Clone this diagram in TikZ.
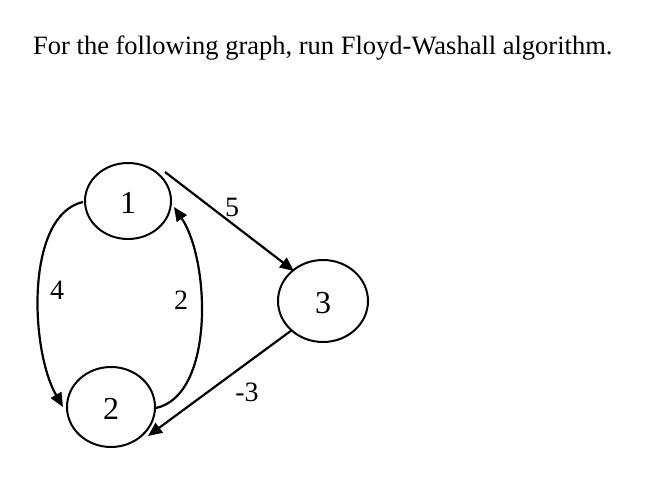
\documentclass[tikz,border=0pt]{standalone}
\usepackage{fontspec}
\setmainfont{Liberation Serif}
\usetikzlibrary{arrows.meta}
\begin{document}
\begin{tikzpicture}[x=1pt,y=-1pt,
  vert/.style={draw,line width=2pt,ellipse,minimum width=#1},
  ell/.style={draw,line width=2pt},
  lbl/.style={font=\fontsize{28}{30}\selectfont,inner sep=0pt},
  edge/.style={line width=2.2pt,-{Triangle[length=14pt,width=12pt]}}]
\useasboundingbox (0,0) rectangle (654,484);
\node[font=\fontsize{26.5}{30}\selectfont,anchor=west,inner sep=0pt] (title) at (33,48) {For the following graph, run Floyd-Washall algorithm.};
\draw[ell] (128,201) ellipse (43 and 38);
\draw[ell] (323,301) ellipse (45 and 41);
\draw[ell] (111,407) ellipse (44 and 40);
\node[lbl,font=\fontsize{32}{34}\selectfont] (n1) at (128,203) {1};
\node[lbl,font=\fontsize{32}{34}\selectfont] (n3) at (323,303) {3};
\node[lbl,font=\fontsize{32}{34}\selectfont] (n2) at (111,409) {2};
\coordinate (a1) at (83,202);
\coordinate (a2) at (63,407);
\coordinate (b1) at (156,408);
\coordinate (b2) at (174,207);
\coordinate (c1) at (165,172);
\coordinate (c2) at (294,271);
\coordinate (d1) at (292,330);
\coordinate (d2) at (148,436);
\draw[edge] (a1) .. controls (25,215) and (30,350) .. (a2);
\draw[edge] (b1) .. controls (215,395) and (210,260) .. (b2);
\draw[edge] (c1) -- (c2);
\draw[edge] (d1) -- (d2);
\node[lbl] (l5) at (232,207) {5};
\node[lbl] (l4) at (57,290) {4};
\node[lbl] (l2) at (181,300) {2};
\node[lbl] (l3) at (247,392) {-3};
\end{tikzpicture}
\end{document}
